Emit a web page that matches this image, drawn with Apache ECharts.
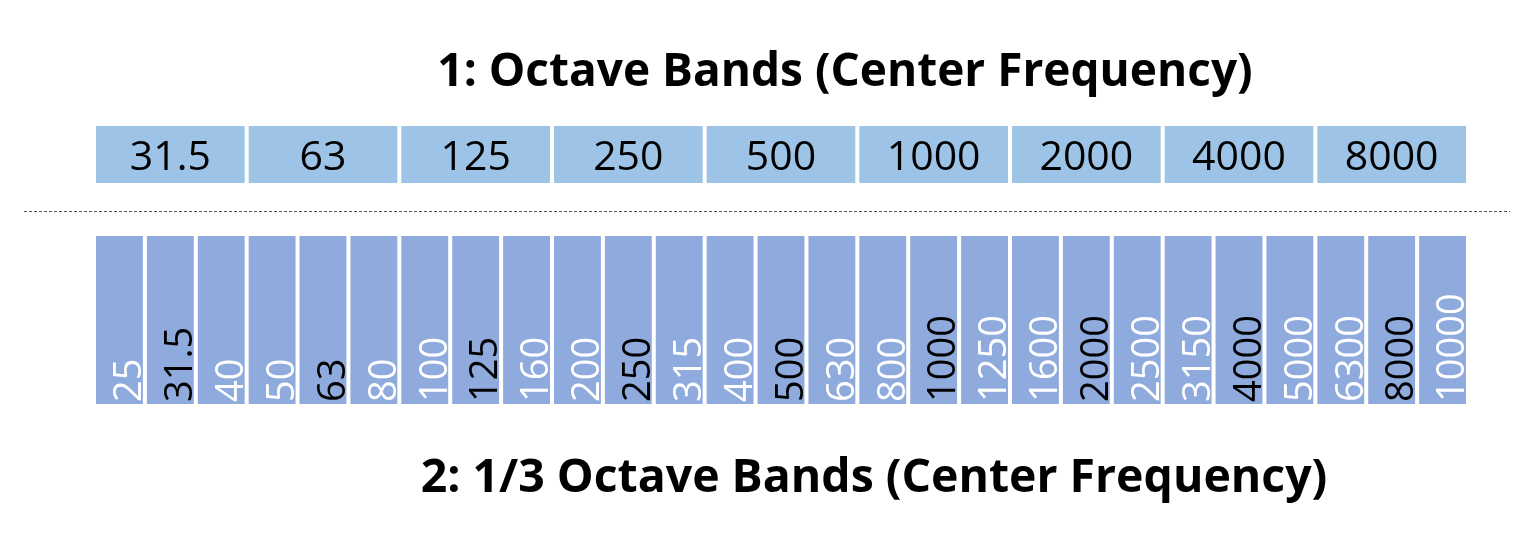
<!DOCTYPE html>
<html>
<head>
<meta charset="utf-8">
<script src="https://cdn.jsdelivr.net/npm/echarts@6/dist/echarts.min.js"></script>
<style>
html,body{margin:0;padding:0;background:#fff;}
#chart{width:1536px;height:533px;}
</style>
</head>
<body>
<div id="chart"></div>
<script>
const titleOctave = '1: Octave Bands (Center Frequency)';
const titleThird = '2: 1/3 Octave Bands (Center Frequency)';
const octaveBands = ['31.5','63','125','250','500','1000','2000','4000','8000'];
const octaveCellValues = [1,1,1,1,1,1,1,1,1];
const thirdOctaveBands = ['25','31.5','40','50','63','80','100','125','160','200','250','315','400','500','630','800','1000','1250','1600','2000','2500','3150','4000','5000','6300','8000','10000'];
const thirdOctaveCellValues = [1,1,1,1,1,1,1,1,1,1,1,1,1,1,1,1,1,1,1,1,1,1,1,1,1,1,1];

const FONT = '"Open Sans", "DejaVu Sans", sans-serif';
const chart = echarts.init(document.getElementById('chart'), null, {renderer:'canvas'});

chart.setOption({
  animation: false,
  backgroundColor: '#ffffff',
  grid: [
    {left: 94, right: 68, top: 124, height: 61},
    {left: 94, right: 68, top: 234, height: 172}
  ],
  xAxis: [
    {type:'category', gridIndex:0, data: octaveBands, show:false},
    {type:'category', gridIndex:1, data: thirdOctaveBands, show:false}
  ],
  yAxis: [
    {type:'value', gridIndex:0, min:0, max:1, show:false},
    {type:'value', gridIndex:1, min:0, max:1, show:false}
  ],
  series: [
    {
      type:'bar', xAxisIndex:0, yAxisIndex:0,
      data: octaveCellValues,
      barCategoryGap:'0%',
      itemStyle:{color:'#9DC3E6', borderColor:'#ffffff', borderWidth:2},
      label:{
        show:true, position:'inside', offset:[0,4],
        formatter: p => octaveBands[p.dataIndex],
        color:'#000', fontFamily: FONT, fontSize: 41
      },
      silent:true
    },
    {
      type:'bar', xAxisIndex:1, yAxisIndex:1,
      data: thirdOctaveCellValues.map((v,i) => ({
        value: v,
        label: {color: octaveBands.indexOf(thirdOctaveBands[i]) >= 0 ? '#000000' : '#ffffff'}
      })),
      barCategoryGap:'0%',
      itemStyle:{color:'#8FAADC', borderColor:'#ffffff', borderWidth:2},
      label:{
        show:true, position:'insideBottom', rotate:90,
        align:'left', verticalAlign:'middle', distance:4, offset:[0,11],
        formatter: p => thirdOctaveBands[p.dataIndex],
        fontFamily: FONT, fontSize: 38
      },
      silent:true
    }
  ],
  graphic: [
    {type:'text', x:845, y:73, style:{text:titleOctave, fontFamily:FONT, fontWeight:'bold', fontSize:46, fill:'#000', textAlign:'center', textVerticalAlign:'middle'}},
    {type:'text', x:874, y:479, style:{text:titleThird, fontFamily:FONT, fontWeight:'bold', fontSize:46.4, fill:'#000', textAlign:'center', textVerticalAlign:'middle'}},
    {type:'line', shape:{x1:24, y1:211.5, x2:1510, y2:211.5}, style:{stroke:'#555', lineWidth:1, lineDash:[3,2]}}
  ]
});
</script>
</body>
</html>
